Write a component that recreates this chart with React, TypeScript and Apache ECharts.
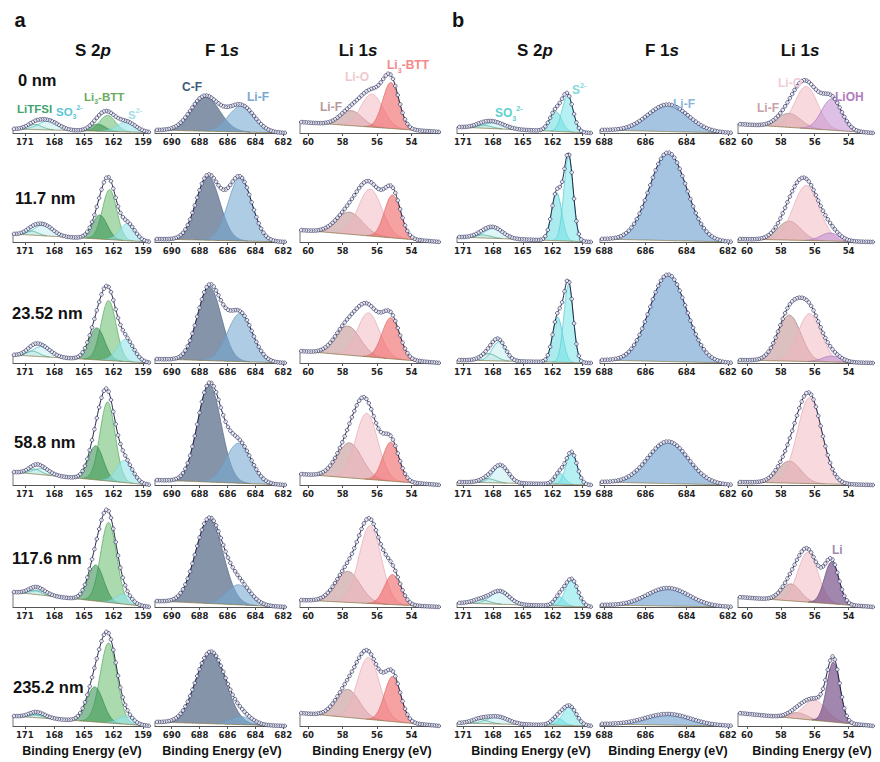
import React, { useEffect, useRef } from "react";
import * as echarts from "echarts";

// Sputter depths, one row of spectra each
const DEPTHS = ["0 nm", "11.7 nm", "23.52 nm", "58.8 nm", "117.6 nm", "235.2 nm"];

const S2P_TICKS = [171, 168, 165, 162, 159];
const F1S_TICKS_A = [690, 688, 686, 684, 682];
const F1S_TICKS_B = [688, 686, 684, 682];
const LI1S_TICKS = [60, 58, 56, 54];

// Fitted components: [centre (eV), height (a.u.), FWHM (eV)] for each depth row.
// Backgrounds: [height at high-BE end, height at low-BE end] for each depth row.

// (a) S 2p
const AS2P_LITFSI = [[170.0, 5, 1.8], [170.3, 4, 1.5], [170.2, 5, 1.6], [170.0, 5, 1.6], [170.0, 4, 1.6], [170.0, 3, 1.6]];
const AS2P_SO3 = [[168.6, 9, 2.4], [169.1, 11, 2.2], [169.3, 10, 2.2], [169.3, 6, 2.0], [169.5, 4, 2.0], [169.5, 3, 2.0]];
const AS2P_BTT_LO = [[162.6, 16, 1.9], [162.4, 50, 1.7], [162.5, 60, 1.8], [162.6, 79, 1.8], [162.5, 80, 1.9], [162.5, 80, 2.0]];
const AS2P_BTT_HI = [[163.6, 7, 1.8], [163.4, 24, 1.8], [163.7, 32, 1.9], [163.8, 34, 1.8], [163.8, 36, 1.9], [163.9, 35, 2.0]];
const AS2P_S2 = [[160.7, 10, 2.2], [160.6, 17, 1.8], [160.8, 22, 2.0], [160.9, 22, 1.9], [161.0, 10, 1.8], [160.8, 8, 1.8]];
const AS2P_BG = [[4, 0.5], [8, 0], [8, 0], [13, 0], [15, 0], [10, 0]];

// (a) F 1s
const AF1S_CF = [[687.6, 35, 2.4], [687.4, 64, 2.0], [687.3, 74, 2.0], [687.3, 97, 2.0], [687.3, 85, 2.3], [687.2, 72, 2.5]];
const AF1S_LIF = [[685.0, 26, 2.2], [685.1, 63, 2.0], [685.1, 48, 2.1], [685.2, 40, 2.1], [685.2, 20, 2.0], [685.0, 8, 1.8]];
const AF1S_BG = [[3, 0], [3, 0], [4, 0], [5, 0], [6, 0], [4, 0]];

// (a) Li 1s
const ALI_LIF = [[57.5, 15, 1.5], [57.6, 22, 1.8], [57.7, 29, 1.7], [57.6, 35, 1.7], [57.7, 31, 1.7], [57.7, 28, 1.6]];
const ALI_LIO = [[56.3, 33, 1.5], [56.4, 47, 1.6], [56.5, 44, 1.5], [56.6, 66, 1.5], [56.4, 78, 1.5], [56.5, 62, 1.5]];
const ALI_BTT = [[55.2, 46, 1.1], [55.1, 43, 1.1], [55.2, 41, 1.2], [55.2, 39, 1.1], [55.1, 30, 1.1], [55.1, 45, 1.1]];
const ALI_BG = [[11, 1], [12, 0], [12, 0], [11, 0], [7, 0], [13, 0]];

// (b) S 2p
const BS2P_LITFSI = [[169.0, 3, 2.0], [169.0, 3, 2.0], [168.4, 7, 1.8], [168.5, 4, 1.8], [169.2, 4, 2.0], [169.3, 4, 2.0]];
const BS2P_SO3 = [[167.8, 6, 2.5], [167.9, 10, 2.2], [167.4, 19, 1.6], [167.2, 17, 1.8], [167.3, 13, 2.2], [167.5, 7, 2.5]];
const BS2P_S2_HI = [[161.7, 20, 1.4], [161.6, 48, 1.2], [161.5, 45, 1.2], [161.3, 11, 1.2], [161.3, 9, 1.2], [161.5, 7, 1.4]];
const BS2P_S2_LO = [[160.5, 36, 1.3], [160.4, 85, 1.1], [160.4, 78, 1.1], [160.1, 32, 1.3], [160.1, 27, 1.5], [160.3, 19, 1.6]];
const BS2P_BG = [[6, 0], [5, 0], [3, 0], [3, 0], [4, 0], [3, 0]];

// (b) F 1s
const BF1S_LIF = [[684.9, 27, 2.3], [684.9, 88, 2.1], [684.9, 87, 2.1], [684.9, 42, 2.3], [684.9, 18, 2.4], [684.9, 11, 2.6]];
const BF1S_BG = [[3, 0], [3, 0], [3, 0], [3, 0], [2, 0], [2, 0]];

// (b) Li 1s — third component is LiOH in the upper rows, metallic Li in the deepest two
const BLI_LIF = [[57.5, 14, 1.6], [57.5, 19, 1.6], [57.5, 46, 1.6], [57.5, 22, 1.6], [57.4, 17, 1.3], [57.0, 6, 1.3]];
const BLI_LIO = [[56.5, 42, 1.6], [56.5, 55, 1.8], [56.3, 48, 1.6], [56.3, 86, 1.7], [56.4, 50, 1.4], [56.0, 20, 1.6]];
const BLI_THIRD = [[55.0, 31, 1.4], [55.1, 8, 1.3], [55.0, 6, 1.3], [55.0, 0, 1.0], [55.0, 42, 1.0], [54.9, 60, 0.9]];
const BLI_BG = [[9, 0], [3, 0], [3, 0], [3, 0], [10, 0], [13, 0]];

const FONT = "'Liberation Sans', Arial, Helvetica, sans-serif";
const TICK_FONT = "'Liberation Sans Narrow', 'Arial Narrow', 'DejaVu Sans Condensed', 'Liberation Sans', Arial, sans-serif";

const AXIS_Y = [133, 242, 363, 485, 607, 726];
const PLOT_H = 115;

type Style = { fill: string; edge: string };
type CompDef = { peaks: number[][]; style: Style | Style[] };
type PanelDef = {
  left: number; right: number; xMin: number; xMax: number;
  ticks: number[]; bg: number[][]; step: number; comps: CompDef[];
};

const ST = {
  litfsi: { fill: "rgba(120,200,160,0.18)", edge: "#3f9f6f" },
  so3: { fill: "rgba(110,215,225,0.22)", edge: "#45bccb" },
  bttLo: { fill: "rgba(120,195,125,0.62)", edge: "#5fae66" },
  bttHi: { fill: "rgba(45,140,75,0.55)", edge: "#3d8f58" },
  s2: { fill: "rgba(150,228,235,0.6)", edge: "#79d3dd" },
  cf: { fill: "rgba(92,112,140,0.75)", edge: "#5a6f8c" },
  lif: { fill: "rgba(120,170,210,0.6)", edge: "#6d9dc6" },
  liF: { fill: "rgba(185,130,130,0.5)", edge: "#b08585" },
  liO: { fill: "rgba(240,180,190,0.5)", edge: "#e8b0ba" },
  btt: { fill: "rgba(240,100,100,0.6)", edge: "#e07070" },
  bS2hi: { fill: "rgba(90,215,220,0.5)", edge: "#4cc6cc" },
  bS2lo: { fill: "rgba(120,228,232,0.55)", edge: "#5fd0d6" },
  bLif: { fill: "rgba(115,165,210,0.65)", edge: "#6f9fc8" },
  lioh: { fill: "rgba(195,140,210,0.55)", edge: "#b07cc0" },
  li: { fill: "rgba(110,70,130,0.65)", edge: "#6e4f85" },
};

const PANELS: PanelDef[] = [
  {
    left: 13, right: 150, xMin: 158.3, xMax: 172.2, ticks: S2P_TICKS, bg: AS2P_BG, step: 0.24,
    comps: [
      { peaks: AS2P_LITFSI, style: ST.litfsi },
      { peaks: AS2P_SO3, style: ST.so3 },
      { peaks: AS2P_BTT_LO, style: ST.bttLo },
      { peaks: AS2P_BTT_HI, style: ST.bttHi },
      { peaks: AS2P_S2, style: ST.s2 },
    ],
  },
  {
    left: 155, right: 286, xMin: 681.8, xMax: 691.2, ticks: F1S_TICKS_A, bg: AF1S_BG, step: 0.17,
    comps: [
      { peaks: AF1S_CF, style: ST.cf },
      { peaks: AF1S_LIF, style: ST.lif },
    ],
  },
  {
    left: 300, right: 440, xMin: 52.35, xMax: 60.47, ticks: LI1S_TICKS, bg: ALI_BG, step: 0.14,
    comps: [
      { peaks: ALI_LIF, style: ST.liF },
      { peaks: ALI_LIO, style: ST.liO },
      { peaks: ALI_BTT, style: ST.btt },
    ],
  },
  {
    left: 457, right: 592, xMin: 158.05, xMax: 171.6, ticks: S2P_TICKS, bg: BS2P_BG, step: 0.24,
    comps: [
      { peaks: BS2P_LITFSI, style: ST.litfsi },
      { peaks: BS2P_SO3, style: ST.so3 },
      { peaks: BS2P_S2_HI, style: ST.bS2hi },
      { peaks: BS2P_S2_LO, style: ST.bS2lo },
    ],
  },
  {
    left: 600, right: 732, xMin: 681.8, xMax: 688.2, ticks: F1S_TICKS_B, bg: BF1S_BG, step: 0.13,
    comps: [{ peaks: BF1S_LIF, style: ST.bLif }],
  },
  {
    left: 738, right: 874, xMin: 52.5, xMax: 60.53, ticks: LI1S_TICKS, bg: BLI_BG, step: 0.14,
    comps: [
      { peaks: BLI_LIF, style: ST.liF },
      { peaks: BLI_LIO, style: ST.liO },
      { peaks: BLI_THIRD, style: [ST.lioh, ST.lioh, ST.lioh, ST.lioh, ST.li, ST.li] },
    ],
  },
];

// Gaussian line shape of one fitted component
const lineShape = (x: number, p: number[]) =>
  p[1] * Math.exp((-4 * Math.LN2 * (x - p[0]) * (x - p[0])) / (p[2] * p[2]));

function rangeSteps(a: number, b: number, step: number) {
  const out: number[] = [];
  const n = Math.floor((b - a) / step + 1e-9);
  for (let i = 0; i <= n; i++) out.push(+(a + i * step).toFixed(4));
  return out;
}

// One filled band (background to background + component) per custom series
function renderBand(params: any, api: any, st: Style) {
  if (params.dataIndexInside !== 0) return null;
  const n = params.dataInsideLength;
  const top: number[][] = [];
  const bot: number[][] = [];
  for (let i = 0; i < n; i++) {
    const x = api.value(0, i);
    top.push(api.coord([x, api.value(2, i)]));
    bot.push(api.coord([x, api.value(1, i)]));
  }
  return {
    type: "group",
    children: [
      { type: "polygon", shape: { points: top.concat(bot.slice().reverse()) }, style: { fill: st.fill, stroke: "none" } },
      { type: "polyline", shape: { points: top }, style: { fill: "none", stroke: st.edge, lineWidth: 0.8 } },
    ],
  };
}

function buildOption() {
  const grid: any[] = [];
  const xAxis: any[] = [];
  const yAxis: any[] = [];
  const series: any[] = [];

  PANELS.forEach((p) => {
    DEPTHS.forEach((_, r) => {
      const gi = grid.length;
      grid.push({ left: p.left, width: p.right - p.left, top: AXIS_Y[r] - PLOT_H, height: PLOT_H });
      xAxis.push({
        gridIndex: gi, type: "value", inverse: true, min: p.xMin, max: p.xMax,
        axisLine: { show: true, onZero: false, lineStyle: { color: "#555", width: 1 } },
        axisTick: { show: true, length: 3, customValues: p.ticks, lineStyle: { color: "#555" } },
        axisLabel: {
          customValues: p.ticks, margin: 3, fontSize: 9.5, fontWeight: "bold",
          color: "#222", fontFamily: TICK_FONT,
        },
        splitLine: { show: false },
      });
      yAxis.push({ gridIndex: gi, type: "value", min: 0, max: PLOT_H, show: false });

      const [bgHi, bgLo] = p.bg[r];
      const bgAt = (x: number) => bgLo + ((bgHi - bgLo) * (x - p.xMin)) / (p.xMax - p.xMin);
      const peaks = p.comps.map((c) => c.peaks[r]);
      const envAt = (x: number) => peaks.reduce((s, pk) => s + lineShape(x, pk), bgAt(x));
      const fine = rangeSteps(p.xMin, p.xMax, 0.04);

      p.comps.forEach((c) => {
        const pk = c.peaks[r];
        const st = Array.isArray(c.style) ? c.style[r] : c.style;
        const pts = fine
          .map((x) => [x, bgAt(x), bgAt(x) + lineShape(x, pk)])
          .filter((d) => d[2] - d[1] > 0.2);
        if (!pts.length) return;
        series.push({
          type: "custom", xAxisIndex: gi, yAxisIndex: gi, silent: true, z: 2,
          encode: { x: 0, y: 2 },
          data: pts,
          renderItem: (params: any, api: any) => renderBand(params, api, st),
        });
      });

      series.push({
        type: "line", xAxisIndex: gi, yAxisIndex: gi, silent: true, z: 3,
        symbol: "none", data: fine.map((x) => [x, bgAt(x)]),
        lineStyle: { color: "#8d7d4e", width: 0.8 },
      });
      series.push({
        type: "line", xAxisIndex: gi, yAxisIndex: gi, silent: true, z: 4,
        symbol: "none", data: [[p.xMax, 0], [p.xMax, envAt(p.xMax)]],
        lineStyle: { color: "#777", width: 1 },
      });
      series.push({
        type: "line", xAxisIndex: gi, yAxisIndex: gi, silent: true, z: 4,
        symbol: "none", data: fine.map((x) => [x, envAt(x)]),
        lineStyle: { color: "#1f2244", width: 1 },
      });
      const coarse = rangeSteps(p.xMin + p.step / 2, p.xMax, p.step);
      series.push({
        type: "scatter", xAxisIndex: gi, yAxisIndex: gi, silent: true, z: 5,
        symbol: "circle", symbolSize: 3.6,
        data: coarse.map((x) => [x, envAt(x)]),
        itemStyle: { color: "#ffffff", borderColor: "#262a5e", borderWidth: 0.85 },
      });
    });
  });

  const text = (x: number, y: number, t: string, size: number, color: string, align = "left", rich?: any) => ({
    type: "text", x, y, silent: true, z: 100,
    style: {
      text: t, fill: color, fontSize: size, fontWeight: "bold", fontFamily: FONT,
      align, verticalAlign: "middle", textAlign: align, textVerticalAlign: "middle", rich,
    },
  });
  const chem = (size: number, color: string) => ({
    b: { fontSize: size, fontWeight: "bold", fontFamily: FONT, fill: color, color, lineHeight: size + 5 },
    sub: { fontSize: size * 0.6, fontWeight: "bold", fontFamily: FONT, fill: color, color, verticalAlign: "bottom" },
    sup: { fontSize: size * 0.6, fontWeight: "bold", fontFamily: FONT, fill: color, color, verticalAlign: "top" },
  });
  const italic = { i: { fontSize: 17, fontWeight: "bold", fontStyle: "italic", fontFamily: FONT, fill: "#111", color: "#111" } };

  const graphic: any[] = [
    text(20, 20, "a", 20, "#111", "center"),
    text(458, 20, "b", 20, "#111", "center"),
    text(93, 50, "S 2{i|p}", 17, "#111", "center", italic),
    text(222, 50, "F 1{i|s}", 17, "#111", "center", italic),
    text(358, 50, "Li 1{i|s}", 17, "#111", "center", italic),
    text(535, 50, "S 2{i|p}", 17, "#111", "center", italic),
    text(662, 50, "F 1{i|s}", 17, "#111", "center", italic),
    text(800, 50, "Li 1{i|s}", 17, "#111", "center", italic),
  ];
  const rowLabelX = [18, 15, 12, 14, 12, 13];
  const rowLabelY = [80, 198, 313, 442, 558, 687];
  DEPTHS.forEach((d, i) => graphic.push(text(rowLabelX[i], rowLabelY[i], d, 16.5, "#111")));
  [82, 222, 372, 531, 668, 812].forEach((x) =>
    graphic.push(text(x, 751, "Binding Energy (eV)", 12.5, "#111", "center"))
  );

  // component labels
  graphic.push(text(17, 109, "LiTFSI", 11.5, "#3fa36f"));
  graphic.push(text(56, 112, "{b|SO}{sub|3}{sup|2-}", 11.5, "#5bc6d6", "left", chem(11.5, "#5bc6d6")));
  graphic.push(text(84, 97, "{b|Li}{sub|3}{b|-BTT}", 11.5, "#6aab5e", "left", chem(11.5, "#6aab5e")));
  graphic.push(text(128, 115, "{b|S}{sup|2-}", 11.5, "#a5dde8", "left", chem(11.5, "#a5dde8")));
  graphic.push(text(182, 87, "C-F", 12, "#3f5a7a"));
  graphic.push(text(247, 97, "Li-F", 12, "#7aa8d0"));
  graphic.push(text(320, 107, "Li-F", 12, "#b89a9a"));
  graphic.push(text(345, 77, "Li-O", 12, "#f0c8cc"));
  graphic.push(text(387, 65, "{b|Li}{sub|3}{b|-BTT}", 12, "#f28a8a", "left", chem(12, "#f28a8a")));
  graphic.push(text(495, 113, "{b|SO}{sub|3}{sup|2-}", 12, "#5fd0d0", "left", chem(12, "#5fd0d0")));
  graphic.push(text(572, 90, "{b|S}{sup|2-}", 12, "#7ed8d8", "left", chem(12, "#7ed8d8")));
  graphic.push(text(673, 104, "Li-F", 12, "#8ab6d8"));
  graphic.push(text(757, 108, "Li-F", 12, "#c8a0a8"));
  graphic.push(text(778, 83, "Li-O", 12, "#f2cdd6"));
  graphic.push(text(835, 97, "LiOH", 12, "#b07cc0"));
  graphic.push(text(832, 550, "Li", 12, "#a08cb0"));

  return { animation: false, backgroundColor: "#ffffff", grid, xAxis, yAxis, series, graphic };
}

export default function App() {
  const ref = useRef<HTMLDivElement>(null);
  useEffect(() => {
    if (!ref.current) return;
    const chart = echarts.init(ref.current, undefined, { renderer: "svg" });
    chart.setOption(buildOption() as any);
    return () => chart.dispose();
  }, []);
  return (
    <div
      ref={ref}
      style={{ position: "fixed", left: 0, top: 0, width: 880, height: 762, background: "#fff" }}
    />
  );
}
